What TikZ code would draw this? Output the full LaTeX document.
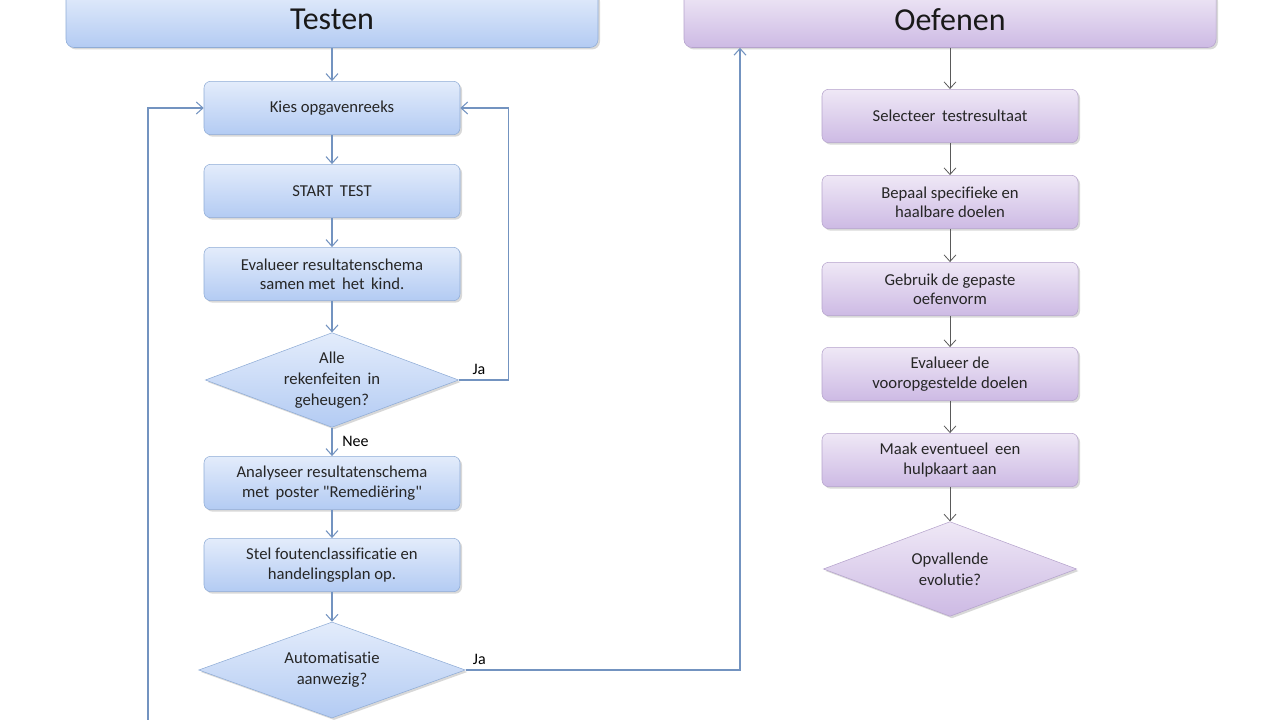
\documentclass[tikz,border=0pt]{standalone}
\usepackage{fontspec}
\setmainfont{Carlito}[Ligatures=NoCommon]
\usetikzlibrary{shapes.geometric, shadows, arrows.meta}

\definecolor{blueTop}{HTML}{E3ECFB}
\definecolor{blueBot}{HTML}{B3CBF3}
\definecolor{blueLine}{HTML}{8FACD6}
\definecolor{lilaTop}{HTML}{EFE8F6}
\definecolor{lilaBot}{HTML}{CDBAE4}
\definecolor{lilaLine}{HTML}{B5A3CC}
\definecolor{arrowBlue}{HTML}{7393C0}
\definecolor{arrowGray}{HTML}{5A5A5A}

\begin{document}
\begin{tikzpicture}[x=0.75pt, y=-0.75pt,
  shade/.style={drop shadow={shadow xshift=1.5pt, shadow yshift=-1.5pt, fill=black!30, opacity=0.5}},
  title/.style={rectangle, rounded corners=6pt, minimum width=399pt, minimum height=42pt,
    font=\fontsize{24}{28}\selectfont, text=black!90, shade},
  box/.style={rectangle, rounded corners=5pt, minimum width=192pt, minimum height=40pt,
    align=center, font=\fontsize{12.5}{14.5}\selectfont, text=black!85, shade},
  choice/.style={diamond, aspect=2.66, inner sep=0pt, align=center,
    font=\fontsize{12.5}{15.5}\selectfont, text=black!85, shade},
  blue/.style={top color=blueTop, bottom color=blueBot, draw=blueLine},
  lila/.style={top color=lilaTop, bottom color=lilaBot, draw=lilaLine},
  flowL/.style={draw=arrowBlue, line width=0.8pt, -{Straight Barb[length=5pt, width=9pt]}},
  flowR/.style={draw=arrowGray, line width=0.6pt, -{Straight Barb[length=5pt, width=9pt]}},
  lbl/.style={font=\fontsize{12}{14}\selectfont, text=black}]

  \useasboundingbox (0,0) rectangle (1280,720);
  \clip (0,0) rectangle (1280,720);

  % Left column - Testen
  \node[title, blue] (testen) at (332,19.5) {Testen};
  \node[box, blue] (kies) at (332,108) {Kies opgavenreeks};
  \node[box, blue] (start) at (332,191) {START\, TEST};
  \node[box, blue] (evalkind) at (332,274) {Evalueer resultatenschema\\samen met\, het\, kind.};
  \node[choice, blue, minimum width=190pt, minimum height=71pt] (alle) at (332,380)
    {Alle\\rekenfeiten\, in\\geheugen?};
  \node[box, blue] (analyse) at (332,483) {Analyseer resultatenschema\\met\, poster \textquotedbl Remediëring\textquotedbl};
  \node[box, blue] (stel) at (332,565) {Stel foutenclassificatie en\\handelingsplan op.};
  \node[choice, blue, minimum width=200pt, minimum height=72pt] (auto) at (332,670)
    {Automatisatie\\aanwezig?};

  % Right column - Oefenen
  \node[title, lila] (oefenen) at (950,19.5) {Oefenen};
  \node[box, lila] (select) at (950,116) {Selecteer\, testresultaat};
  \node[box, lila] (bepaal) at (950,202) {Bepaal specifieke en\\haalbare doelen};
  \node[box, lila] (gebruik) at (950,289) {Gebruik de gepaste\\oefenvorm};
  \node[box, lila] (evaldoel) at (950,374) {Evalueer de\\vooropgestelde doelen};
  \node[box, lila] (maak) at (950,460) {Maak eventueel\, een\\hulpkaart aan};
  \node[choice, lila, minimum width=190pt, minimum height=71pt] (opval) at (950,569)
    {Opvallende\\evolutie?};

  % Connectors left
  \draw[flowL] (testen) -- (kies);
  \draw[flowL] (kies) -- (start);
  \draw[flowL] (start) -- (evalkind);
  \draw[flowL] (evalkind) -- (alle);
  \draw[flowL] (alle) -- node[lbl, right, xshift=4pt] {Nee} (analyse);
  \draw[flowL] (analyse) -- (stel);
  \draw[flowL] (stel) -- (auto);
  \draw[flowL] (alle.east) -- node[lbl, above, pos=0.4] {Ja} ++(50,0) |- (kies.east);
  \coordinate (terug) at (148,730);
  \draw[flowL] (terug) |- (kies.west);
  \draw[flowL] (auto.east) -- node[lbl, above, pos=0.05] {Ja} (740,670) -- ([xshift=-157.5pt]oefenen.south);

  % Connectors right
  \draw[flowR] (oefenen) -- (select);
  \draw[flowR] (select) -- (bepaal);
  \draw[flowR] (bepaal) -- (gebruik);
  \draw[flowR] (gebruik) -- (evaldoel);
  \draw[flowR] (evaldoel) -- (maak);
  \draw[flowR] (maak) -- (opval);

\end{tikzpicture}
\end{document}
